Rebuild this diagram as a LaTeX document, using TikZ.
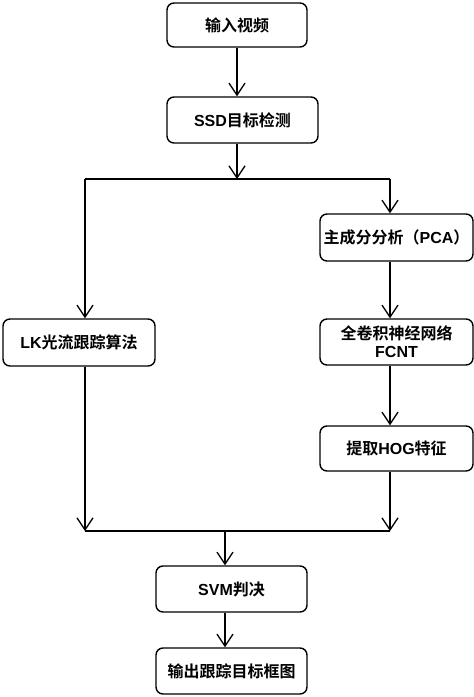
\documentclass[tikz,border=0pt]{standalone}
\usepackage{fontspec}
\setmainfont{Liberation Sans}
\newfontfamily\cjk{Noto Sans CJK SC}[BoldFont={Noto Sans CJK SC Bold}]
\usetikzlibrary{arrows.meta,positioning}
\tikzset{
  stepbox/.style={draw=black,line width=1.4pt,rounded corners=7pt,fill=white,align=center,
    font=\fontsize{16}{18}\selectfont\bfseries,inner xsep=0pt,inner ysep=2pt,minimum width=151pt,minimum height=46pt},
  link/.style={line width=1.3pt},
  arr/.style={link,-{Straight Barb[length=12pt,width=16pt,line width=1.3pt]}},
}

\begin{document}
\begin{tikzpicture}[x=1pt,y=-1pt]
  \useasboundingbox (0,0) rectangle (474,697);
  % main column
  \node[stepbox,minimum width=140pt,minimum height=44pt] (vid) at (237,25) {{\cjk 输入视频}};
  \node[stepbox] (ssd) at (242.5,120) {SSD{\cjk 目标检测}};
  % branches
  \node[stepbox,minimum width=153pt,minimum height=47pt] (pca) at (396.5,237.5) {{\cjk 主成分分析（}PCA{\cjk ）}};
  \node[stepbox,minimum width=152pt,minimum height=47pt] (lk) at (79,342.5) {LK{\cjk 光流跟踪算法}};
  \node[stepbox,minimum width=153pt] (fcnt) at (396.5,342) {{\cjk 全卷积神经网络}\\FCNT};
  \node[stepbox,minimum width=153pt,minimum height=45pt] (hog) at (396.5,448.5) {{\cjk 提取}HOG{\cjk 特征}};
  % merge and output
  \node[stepbox] (svm) at (231.5,589) {SVM{\cjk 判决}};
  \node[stepbox] (out) at (231.5,671) {{\cjk 输出跟踪目标框图}};
  % junctions
  \coordinate (split) at (237,179);
  \coordinate (splitL) at (85,179);
  \coordinate (splitR) at (390,179);
  \coordinate (merge) at (225,531);
  \coordinate (mergeL) at (85,531);
  \coordinate (mergeR) at (390,531);
  % connectors
  \draw[arr] (vid.south) -- (vid.south |- ssd.north);
  \draw[arr] (split |- ssd.south) -- (split);
  \draw[link] (splitL) -- (splitR);
  \draw[arr] (splitL) -- (splitL |- lk.north);
  \draw[arr] (splitR) -- (splitR |- pca.north);
  \draw[arr] (splitR |- pca.south) -- (splitR |- fcnt.north);
  \draw[arr] (splitR |- fcnt.south) -- (splitR |- hog.north);
  \draw[arr] (splitL |- lk.south) -- (mergeL);
  \draw[arr] (splitR |- hog.south) -- (mergeR);
  \draw[link] (mergeL) -- (mergeR);
  \draw[arr] (merge) -- (merge |- svm.north);
  \draw[arr] (merge |- svm.south) -- (merge |- out.north);
\end{tikzpicture}
\end{document}
